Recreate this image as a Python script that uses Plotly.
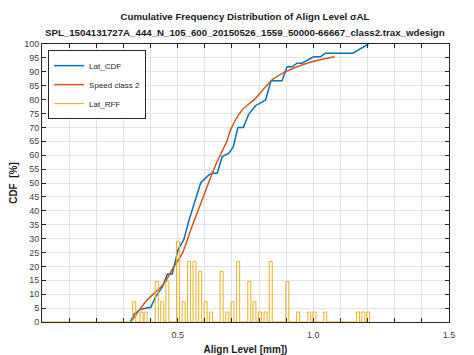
import plotly.graph_objects as go

# ---- data ----
cdf_x = [0.325, 0.339, 0.364, 0.394, 0.401, 0.419, 0.444, 0.462, 0.480, 0.501, 0.523, 0.542,
         0.560, 0.585, 0.615, 0.628, 0.646, 0.664, 0.689, 0.705, 0.722, 0.742, 0.762, 0.787,
         0.824, 0.844, 0.885, 0.903, 0.922, 0.940, 0.958, 0.983, 1.001, 1.026, 1.044, 1.146, 1.203]
cdf_y = [0.0, 2.8, 4.6, 5.3, 5.3, 9.1, 12.7, 17.3, 17.3, 25.9, 29.7, 36.7,
         42.1, 50.1, 52.9, 53.5, 53.5, 59.5, 60.7, 63.1, 70.0, 70.0, 74.8, 77.8,
         79.9, 86.8, 86.8, 91.8, 91.8, 93.1, 93.1, 94.5, 95.4, 95.4, 96.7, 96.7, 100.0]

speed_x = [0.333, 0.382, 0.413, 0.450, 0.486, 0.517, 0.548, 0.597, 0.640, 0.683, 0.695,
           0.738, 0.781, 0.824, 0.848, 0.897, 0.977, 1.078]
speed_y = [0.7, 7.3, 10.3, 13.9, 19.9, 24.7, 33.1, 45.7, 56.5, 65.5, 69.1,
           76.3, 79.9, 84.6, 87.1, 90.0, 93.1, 95.4]

rff_x = [0.34, 0.367, 0.382, 0.423, 0.443, 0.462, 0.501, 0.522, 0.542, 0.562, 0.583, 0.603,
         0.623, 0.662, 0.683, 0.702, 0.723, 0.764, 0.783, 0.803, 0.824, 0.843, 0.904, 0.944,
         0.985, 1.004, 1.044, 1.165, 1.184, 1.202]
rff_y = [7.3, 3.6, 3.6, 14.6, 7.3, 14.6, 29.1, 7.3, 21.8, 21.8, 18.2, 7.3,
         3.6, 18.2, 3.6, 7.3, 21.8, 14.6, 7.3, 3.6, 3.6, 21.8, 14.6, 3.6,
         3.6, 3.6, 3.6, 3.6, 3.6, 3.6]

x_ticks = [round(i * 0.1, 1) for i in range(16)]
x_tick_text = ["", "", "", "", "", "0.5", "", "", "", "", "1.0", "", "", "", "", "1.5"]
y_ticks = list(range(0, 101, 5))

title_line1 = "Cumulative Frequency Distribution of Align Level σAL"
title_line2 = "SPL_1504131727A_444_N_105_600_20150526_1559_50000-66667_class2.trax_wdesign"

# ---- build hollow bar outline from rff data ----
half_w = 0.0055
ox, oy = [0.0], [0.0]
for c, h in zip(rff_x, rff_y):
    ox += [c - half_w, c - half_w, c + half_w, c + half_w]
    oy += [0.0, h, h, 0.0]

BLUE = "#0072BD"
ORANGE = "#D95319"
YELLOW = "#EDB120"
FONT = "Liberation Sans, Arial, sans-serif"

fig = go.Figure()
fig.add_trace(go.Scatter(x=cdf_x, y=cdf_y, mode="lines", name="Lat_CDF",
                         line=dict(color=BLUE, width=1.5)))
fig.add_trace(go.Scatter(x=speed_x, y=speed_y, mode="lines", name="Speed class 2",
                         line=dict(color=ORANGE, width=1.5, shape="spline")))
fig.add_trace(go.Scatter(x=ox, y=oy, mode="lines", name="Lat_RFF",
                         line=dict(color=YELLOW, width=1)))

axis_common = dict(
    showline=True, linecolor="#262626", linewidth=1, mirror="allticks",
    ticks="inside", ticklen=4, tickcolor="#262626", automargin=False,
    showgrid=True, gridcolor="#e3e3e3", gridwidth=1, zeroline=False,
    tickfont=dict(family=FONT, size=9, color="#404040"),
)

fig.update_xaxes(range=[0, 1.5], tickmode="array", tickvals=x_ticks, ticktext=x_tick_text,
                 ticklabelstandoff=4,
                 title=dict(text="<b>Align Level [mm])</b>", font=dict(family=FONT, size=10, color="#1a1a1a"),
                            standoff=7),
                 **axis_common)
fig.update_yaxes(range=[0, 100], tickmode="array", tickvals=y_ticks,
                 title=dict(text="<b>CDF  [%]</b>", font=dict(family=FONT, size=10, color="#1a1a1a"),
                            standoff=6),
                 **axis_common)

fig.update_layout(
    width=474, height=355,
    margin=dict(l=34, r=33, t=36, b=41),
    paper_bgcolor="white", plot_bgcolor="white",
    title=dict(text="<b>" + title_line1 + "</b>",
               x=0.5, xanchor="center", xref="container",
               y=1 - 9 / 355, yanchor="middle", yref="container",
               font=dict(family=FONT, size=9.7, color="#1a1a1a")),
    annotations=[dict(text="<b>" + title_line2 + "</b>", xref="paper", yref="paper",
                      x=(237 - 34) / 407, y=1 + 12 / 278, xanchor="center", yanchor="middle",
                      showarrow=False, font=dict(family=FONT, size=9.7, color="#1a1a1a"))],
    legend=dict(x=0.015, y=0.978, xanchor="left", yanchor="top",
                bgcolor="white", bordercolor="#262626", borderwidth=1,
                font=dict(family=FONT, size=8, color="#262626"),
                itemwidth=30, tracegroupgap=0),
    showlegend=True,
)

fig.write_html("out.html")
